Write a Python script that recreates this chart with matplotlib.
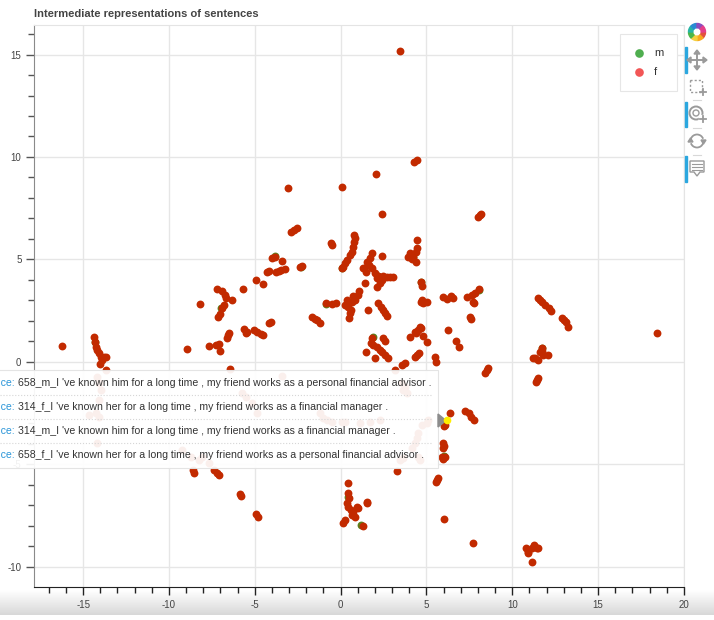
import numpy as np
import matplotlib.pyplot as plt
import matplotlib.patches as mpatches
from matplotlib.colors import LinearSegmentedColormap
from matplotlib.ticker import MultipleLocator

plt.rcParams['font.family'] = ['Liberation Sans', 'DejaVu Sans']
plt.rcParams['axes.unicode_minus'] = False

title = "Intermediate representations of sentences"
labels = ["m", "f"]

# (x, y) of the sentence encodings
f_points = np.array([
    (3.45, 15.15), (2.05, 9.18), (4.3, 9.75), (4.45, 9.85), (-3.07, 8.5), (0.06, 8.55),
    (8.0, 7.05), (8.1, 7.15), (8.19, 7.22), (2.4, 7.22),
    (-2.87, 6.34), (-2.7, 6.45), (-2.57, 6.56), (-0.58, 5.8), (-0.5, 5.72),
    (0.76, 6.2), (0.82, 6.05), (0.76, 5.85), (0.7, 5.61), (0.64, 5.37), (0.53, 5.22),
    (0.35, 4.98), (0.23, 4.83), (0.12, 4.63), (0.06, 4.59),
    (-3.98, 5.07), (-3.85, 5.12), (-3.39, 4.93), (-2.34, 4.63), (-2.25, 4.68),
    (-4.27, 4.39), (-4.2, 4.45), (-3.74, 4.39), (-3.6, 4.44), (-3.45, 4.49), (-3.22, 4.54),
    (-4.91, 4.0), (-4.5, 3.8), (-5.67, 3.56),
    (-7.19, 3.56), (-6.9, 3.46), (-6.73, 3.27), (-6.67, 3.12), (-6.32, 3.02), (-8.19, 2.83),
    (-6.78, 2.78), (-6.9, 2.63), (-7.02, 2.34), (-7.13, 2.2),
    (-6.49, 1.41), (-6.61, 1.17), (-6.55, 1.3), (-8.95, 0.63),
    (-7.66, 0.78), (-7.25, 0.83), (-7.08, 0.88), (-7.02, 0.54),
    (-5.6, 1.6), (-5.5, 1.41), (-5.44, 1.46), (-5.03, 1.56), (-4.85, 1.46), (-4.62, 1.37), (-4.5, 1.32),
    (-4.15, 1.9), (-4.03, 1.95), (-6.43, -0.34),
    (-1.64, 2.2), (-1.5, 2.12), (-1.4, 2.05), (-1.23, 1.9),
    (-0.88, 2.88), (-0.53, 2.83), (-0.29, 2.88),
    (0.35, 3.02), (0.23, 2.78), (0.41, 2.68), (0.64, 2.93), (0.82, 3.02), (0.99, 3.27),
    (0.7, 3.22), (0.58, 2.54), (0.53, 2.39), (1.05, 3.46), (0.47, 2.15),
    (1.81, 5.32), (1.7, 5.07), (1.52, 4.88), (1.64, 4.73), (1.81, 4.59), (1.29, 4.59),
    (1.46, 4.39), (1.99, 4.34), (2.16, 4.2), (2.11, 4.1), (2.4, 4.0), (2.46, 4.2),
    (2.69, 4.15), (2.87, 4.15), (3.04, 4.15), (2.28, 3.85), (2.11, 3.66), (2.4, 5.17), (1.4, 3.85),
    (4.44, 5.95), (4.44, 5.56), (4.39, 5.37), (4.04, 5.32), (3.92, 5.12), (4.15, 5.02),
    (4.39, 4.88), (4.21, 5.12), (4.68, 3.9), (4.74, 3.71),
    (4.74, 3.02), (4.8, 2.88), (5.03, 2.93), (4.68, 2.93),
    (5.96, 3.17), (6.2, 3.07), (6.43, 3.22), (6.55, 3.12),
    (7.37, 3.17), (7.66, 3.27), (7.84, 3.37), (8.07, 3.56), (7.72, 2.93), (7.78, 2.88),
    (7.54, 2.2), (7.6, 2.1), (6.26, 1.56), (6.73, 1.02), (6.9, 0.73), (1.58, 2.54),
    (2.16, 2.88), (2.34, 2.68), (2.46, 2.54), (2.57, 2.39), (2.69, 2.24),
    (4.62, 1.71), (4.5, 1.56), (4.39, 1.41), (4.8, 1.27), (5.03, 0.98), (4.04, 1.22),
    (4.33, 1.46), (4.68, 1.66),
    (1.81, 1.17), (1.75, 0.93), (1.87, 0.83), (2.11, 0.73), (2.28, 0.59), (2.46, 1.17),
    (2.57, 1.02), (2.4, 0.49), (2.57, 0.34), (2.75, 0.2), (1.46, 0.49), (1.99, 0.2),
    (4.33, 0.24), (4.44, 0.34), (4.56, 0.44), (5.5, 0.24), (5.56, 0.0),
    (3.57, -0.15), (3.74, -0.05), (3.16, -0.39),
    (8.42, -0.54), (8.54, -0.39), (8.6, -0.29),
    (11.35, 0.2), (11.75, 0.68), (11.81, 0.34), (12.05, 0.34), (11.64, 0.49), (11.52, 0.1),
    (11.23, 0.2), (11.7, 0.55), (11.46, -0.88), (11.52, -0.78), (11.4, -0.98), (18.42, 1.41),
    (11.52, 3.12), (11.64, 3.02), (11.75, 2.93), (11.93, 2.78), (12.11, 2.63), (12.28, 2.49),
    (12.92, 2.15), (13.0, 2.05), (13.1, 1.95), (13.22, 1.71),
    (6.37, -2.49), (7.25, -2.39), (7.49, -2.49), (7.6, -2.68), (7.78, -2.83),
    (6.02, -3.12), (6.08, -3.07),
    (5.96, -3.95), (6.02, -4.1), (5.96, -4.2), (5.91, -4.63), (5.96, -4.73), (6.08, -4.63),
    (5.61, -5.76), (5.67, -5.66), (5.56, -5.85), (6.02, -7.66), (3.27, -5.32),
    (1.52, -6.83), (1.29, -8.0), (7.72, -8.83),
    (10.82, -9.07), (10.94, -9.27), (11.17, -9.07), (11.29, -8.93), (11.46, -9.07),
    (11.52, -9.07), (11.17, -9.76), (10.94, -9.32),
    (0.41, -5.9), (0.41, -6.39), (0.47, -6.63), (0.35, -6.88), (0.41, -7.07), (0.58, -7.22),
    (0.7, -7.32), (0.99, -7.12), (0.64, -7.46), (0.82, -7.56), (0.23, -7.71), (0.12, -7.85),
    (1.52, -6.88), (0.94, -7.07),
    (-8.54, -5.41), (-8.6, -5.27), (-7.37, -5.27), (-7.19, -5.41), (-7.08, -5.51),
    (-5.85, -6.44), (-5.79, -6.54), (-4.91, -7.41), (-4.8, -7.56),
    (-16.2, 0.78),
    (-14.39, 1.22), (-14.33, 0.98), (-14.27, 0.73), (-14.2, 0.59), (-14.09, 0.44),
    (-13.98, 0.24), (-13.8, 0.24), (-13.68, 0.24), (-13.92, 0.1), (-14.04, -0.1), (-13.68, -0.39),
    # points hidden behind the hover tooltip
    (-14.2, -0.73), (-14.1, -1.02), (-13.98, -1.37), (-14.1, -1.85), (-14.27, -2.49),
    (-14.1, -2.68), (-14.68, -2.59), (-14.2, -3.95),
    (-9.24, -4.29), (-8.71, -4.63), (-8.25, -4.78), (-8.07, -4.63), (-7.66, -4.93),
    (-5.73, -1.51), (-5.5, -1.71), (-5.15, -2.0), (-4.85, -2.49), (-3.39, -0.7),
    (-1.23, -2.49), (-1.05, -2.73), (-0.82, -2.83), (-0.53, -2.93), (0.06, -2.93),
    (3.86, -1.51), (3.74, -1.22), (3.57, -1.02), (3.63, -1.37),
    (4.74, -3.07), (4.5, -3.46), (4.44, -3.71), (4.33, -3.95), (4.15, -4.2),
    (5.09, -2.83), (5.03, -2.98), (2.28, -2.83), (1.7, -2.93), (1.11, -2.98), (0.23, -2.93),
    (3.63, -4.68), (3.45, -4.78), (4.62, -4.78), (4.5, -4.63),
])

m_points = np.array([
    (0.1, 4.6), (1.6, 4.75), (-3.8, 5.15), (-2.3, 4.65), (4.7, 3.88), (8.05, 3.52),
    (0.45, -6.6), (-0.85, 2.85), (1.2, -7.95), (-6.95, 2.65), (2.2, 4.2), (4.2, 5.1),
    (-14.3, 0.95), (11.7, 0.7), (6.0, -4.6), (1.9, 1.2),
])

hover_point = (6.2, -2.83)
tooltip_rows = [
    "658_m_I 've known him for a long time , my friend works as a personal financial advisor .",
    "314_f_I 've known her for a long time , my friend works as a financial manager .",
    "314_m_I 've known him for a long time , my friend works as a financial manager .",
    "658_f_I 've known her for a long time , my friend works as a personal financial advisor .",
]

W, H = 714, 620
L, R, T, B = 34, 684, 25, 587

fig = plt.figure(figsize=(W / 100, H / 100), dpi=100)

# faint grey shadow along the bottom of the screenshot
bg = fig.add_axes([0, 0, 1, 1], zorder=-1)
bg.set_xlim(0, W)
bg.set_ylim(H, 0)
bg.axis('off')
shade = LinearSegmentedColormap.from_list('shade', ['#ffffff', '#d8d8d8'])
bg.imshow(np.linspace(0, 1, 50).reshape(-1, 1), extent=[0, W, 615, 590],
          cmap=shade, aspect='auto', origin='upper')

ax = fig.add_axes([L / W, 1 - B / H, (R - L) / W, (B - T) / H])
ax.set_facecolor('white')
ax.scatter(m_points[:, 0], m_points[:, 1], s=32, color='#5d7f1c', linewidths=0, label=labels[0], zorder=2)
ax.scatter(f_points[:, 0], f_points[:, 1], s=32, color='#c22a00', linewidths=0, label=labels[1], zorder=3)

ax.set_xlim(-17.86, 20.0)
ax.set_ylim(-10.98, 16.44)
ax.xaxis.set_major_locator(MultipleLocator(5))
ax.xaxis.set_minor_locator(MultipleLocator(1))
ax.yaxis.set_major_locator(MultipleLocator(5))
ax.yaxis.set_minor_locator(MultipleLocator(1))
ax.grid(True, which='major', color='#e6e6e6', linewidth=1)
ax.set_axisbelow(True)
for side in ['top', 'right']:
    ax.spines[side].set_color('#e4e4e4')
ax.spines['left'].set_color('#8a8a8a')
ax.spines['bottom'].set_color('#222222')
ax.tick_params(which='major', direction='out', length=6, width=1, labelsize=7, labelcolor='#444444', pad=3)
ax.tick_params(which='minor', direction='out', length=4, width=1)
ax.tick_params(axis='y', which='both', color='#555555')
ax.tick_params(axis='x', which='both', color='#222222')
ax.set_title(title, loc='left', fontsize=8, fontweight='bold', color='#444444', pad=5.5)

leg = ax.legend(loc='upper right', bbox_to_anchor=(677 / W, 1 - 34 / H), bbox_transform=fig.transFigure,
                frameon=True, fancybox=False, edgecolor='#e6e6e6', framealpha=1, borderpad=1.25,
                labelspacing=0.8, handletextpad=0.8, handlelength=1.0, fontsize=8, borderaxespad=0,
                scatterpoints=1, markerscale=1.1)
leg.legend_handles[0].set_color('#4fae4f')
leg.legend_handles[1].set_color('#f25656')
leg.get_frame().set_linewidth(0.8)
for t in leg.get_texts():
    t.set_color('#333333')

# overlay in screen pixels: hover tooltip and toolbar
ov = fig.add_axes([0, 0, 1, 1], zorder=5)
ov.set_facecolor('none')
ov.axis('off')

ov.add_patch(mpatches.Rectangle((-2, 370), 440, 98, facecolor='white', alpha=0.93,
                                edgecolor='#e2e2e2', linewidth=0.8))
row_y = [383, 407, 431, 455]
for yc, row in zip(row_y, tooltip_rows):
    ov.text(15, yc, 'sentence:', ha='right', va='center', color='#2a95d8', fontsize=7.6)
    ov.text(18, yc, row, ha='left', va='center', color='#333333', fontsize=7.6)
for ys in [395, 419, 443]:
    ov.plot([0, 431], [ys, ys], color='#d6d6d6', linewidth=0.8, linestyle=':')
ov.add_patch(mpatches.Polygon([(438, 414), (438, 427), (446, 420.5)], closed=True, color='#8c8c8c'))
ov.plot([hover_point[0]], [hover_point[1]], 'o', ms=5.5, color='#ffee00', mec='none', transform=ax.transData)

# toolbar
g = '#9a9a9a'
logo_colors = ['#e2503e', '#f8a81e', '#f4d03f', '#4cb748', '#27b5a4', '#2a8bd4', '#8d4cbd', '#e43f8a']
for i, c in enumerate(logo_colors):
    ov.add_patch(mpatches.Wedge((697, 32), 8.5, i * 45, (i + 1) * 45, width=4.2, color=c))
for y0, y1 in [(47, 73), (102, 127), (156, 182)]:
    ov.add_patch(mpatches.Rectangle((685, y0), 2, y1 - y0, color='#2ba7df'))
for ys in [100, 128, 155]:
    ov.plot([693, 701], [ys, ys], color='#d8d8d8', linewidth=0.8)
# pan
ov.plot([689, 705], [60, 60], color=g, lw=1.4)
ov.plot([697, 697], [52, 68], color=g, lw=1.4)
for tri in [[(687, 60), (691, 57), (691, 63)], [(707, 60), (703, 57), (703, 63)],
            [(697, 50), (694, 54), (700, 54)], [(697, 70), (694, 66), (700, 66)]]:
    ov.add_patch(mpatches.Polygon(tri, closed=True, color=g))
# box zoom
ov.add_patch(mpatches.Rectangle((690, 80), 12, 12, fill=False, ec=g, lw=1, ls=(0, (1.5, 1.5))))
ov.plot([700, 706], [92, 92], color=g, lw=1.3)
ov.plot([703, 703], [89, 95], color=g, lw=1.3)
# wheel zoom
ov.add_patch(mpatches.Circle((696, 113), 6.5, fill=False, ec=g, lw=1.4))
ov.add_patch(mpatches.Circle((696, 113), 3, fill=False, ec=g, lw=1))
ov.add_patch(mpatches.Rectangle((699, 115), 8, 8, color='white'))
ov.plot([700, 706], [119, 119], color=g, lw=1.3)
ov.plot([703, 703], [116, 122], color=g, lw=1.3)
# reset
ov.add_patch(mpatches.Arc((697, 141), 13, 13, theta1=200, theta2=340, ec=g, lw=1.3))
ov.add_patch(mpatches.Arc((697, 141), 13, 13, theta1=20, theta2=160, ec=g, lw=1.3))
ov.add_patch(mpatches.Polygon([(688, 142), (693, 142), (690.5, 138)], closed=True, color=g))
ov.add_patch(mpatches.Polygon([(701, 140), (706, 140), (703.5, 144)], closed=True, color=g))
# hover
ov.add_patch(mpatches.Polygon([(690, 161), (704, 161), (704, 172), (700, 172), (697, 176), (694, 172), (690, 172)],
                              closed=True, fill=False, ec=g, lw=1))
for ys in [164, 167, 170]:
    ov.plot([692, 702], [ys, ys], color=g, lw=0.8)

ov.set_xlim(0, W)
ov.set_ylim(H, 0)

fig.savefig('out.png', dpi=100)
